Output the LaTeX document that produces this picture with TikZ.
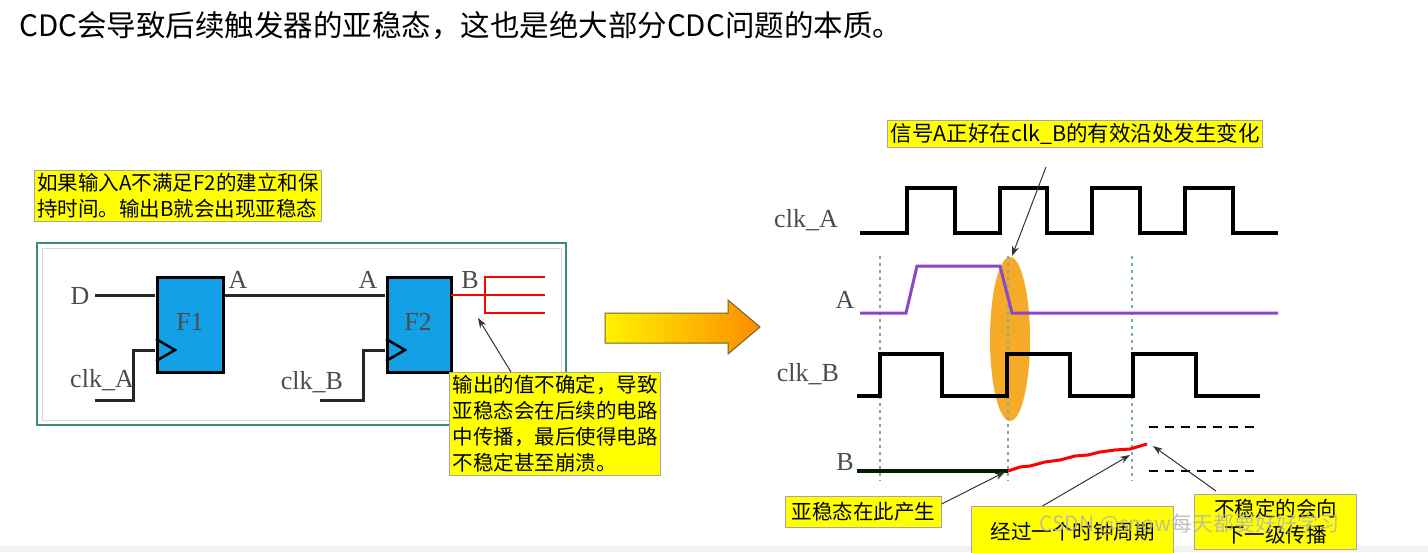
\documentclass[tikz,border=0pt]{standalone}
\usepackage{fontspec}
\setmainfont{Noto Sans CJK SC}
\newfontfamily\lbl{Liberation Serif}
\usetikzlibrary{arrows.meta}
\definecolor{callout}{RGB}{255,255,0}
\definecolor{ffblue}{RGB}{20,160,230}
\definecolor{teal}{RGB}{60,140,120}
\definecolor{purp}{RGB}{140,70,200}
\definecolor{orng}{RGB}{245,170,40}
\tikzset{
  note/.style={fill=callout, draw=gray!70, line width=1pt, inner sep=3pt, align=left, font=\fontsize{20.5}{26}\selectfont, text=black},
  ff/.style={fill=ffblue, draw=black, line width=3pt},
  wire/.style={line width=3pt, black!85},
  wave/.style={line width=3.5pt, line join=miter},
  sig/.style={font=\lbl\fontsize{26}{28}\selectfont, text=black!70},
  ptr/.style={-{Stealth[length=10pt,width=7pt]}, line width=1pt, black!80},
  guide/.style={teal!70, line width=1.2pt, dash pattern=on 3pt off 4pt}
}
\begin{document}
\begin{tikzpicture}[x=1pt,y=-1pt]
\useasboundingbox (0,0) rectangle (1428,552);
\fill[white] (0,0) rectangle (1428,552);
\fill[gray!10] (0,546) rectangle (1428,552);
\node[anchor=west, font=\fontsize{29.5}{32}\selectfont, inner sep=0pt] (title) at (19,26) {CDC会导致后续触发器的亚稳态，这也是绝大部分CDC问题的本质。};

% left circuit
\node[note, anchor=north west] (n1) at (34,170) {如果输入A不满足F2的建立和保\\持时间。输出B就会出现亚稳态};
\draw[teal, line width=2.5pt] (37,243) rectangle (566,425);
\draw[gray!30, line width=1pt] (42,248) rectangle (561,420);
\draw[wire] (95,295) -- (155,295);
\draw[wire] (222,295) -- (385,295);
\draw[wire] (95,400) -- (133,400) -- (133,350) -- (155,350);
\draw[wire] (320,400) -- (363,400) -- (363,350) -- (385,350);
\node[ff, minimum width=66pt, minimum height=95pt, anchor=north west] (F1) at (156,276) {};
\node[ff, minimum width=64pt, minimum height=95pt, anchor=north west] (F2) at (386,276) {};
\node[sig, text=black!70] at (190,322) {F1};
\node[sig, text=black!70] at (418,322) {F2};
\draw[line width=2.5pt] (156,339) -- (175,350) -- (156,361);
\draw[line width=2.5pt] (386,339) -- (405,350) -- (386,361);
\draw[red, line width=2.5pt] (451,295) -- (545,295);
\draw[red, line width=2.5pt] (545,277) -- (485,277) -- (485,313) -- (545,313);
\node[sig] (lD) at (80,296) {D};
\node[sig] (lA1) at (238,280) {A};
\node[sig] (lA2) at (368,280) {A};
\node[sig] (lB) at (470,280) {B};
\node[sig] (lcA) at (102,380) {clk\_A};
\node[sig] (lcB) at (312,382) {clk\_B};
\coordinate (bpt) at (478,318);
\node[note, anchor=north west] (n2) at (449,372) {输出的值不确定，导致\\亚稳态会在后续的电路\\中传播，最后使得电路\\不稳定甚至崩溃。};
\draw[ptr] (n2.north west) ++(62,0) -- (bpt);

% big arrow
\shade[left color=yellow!90!orange, right color=orange!90!yellow, draw=olive!70!black, line width=1pt]
  (605,313) -- (728,313) -- (728,300) -- (760,327) -- (728,354) -- (728,343) -- (605,343) -- cycle;

% waveforms
\node[note, anchor=north west, font=\fontsize{21.5}{26}\selectfont] (n3) at (887,120) {信号A正好在clk\_B的有效沿处发生变化};
\fill[orng] (1010,339) ellipse (20 and 82);
\foreach \x in {880,1008,1132} \draw[guide] (\x,256) -- (\x,481);
\draw[wave] (860,233) -- (907,233) -- (907,188) -- (955,188) -- (955,233) -- (1000,233) -- (1000,188) -- (1047,188) -- (1047,233) -- (1092,233) -- (1092,188) -- (1140,188) -- (1140,233) -- (1185,233) -- (1185,188) -- (1233,188) -- (1233,233) -- (1278,233);
\draw[wave, purp, line width=3pt] (860,313) -- (906,313) -- (917,266) -- (1000,266) -- (1012,313) -- (1278,313);
\draw[wave] (857,396) -- (880,396) -- (880,354) -- (942,354) -- (942,396) -- (1007,396) -- (1007,354) -- (1070,354) -- (1070,396) -- (1133,396) -- (1133,354) -- (1196,354) -- (1196,396) -- (1260,396);
\draw[line width=3.5pt, black!70!green!40!black] (857,471) -- (1008,471);
\draw[red, line width=3pt] (1008,471) -- (1020,467) -- (1030,466) -- (1045,462) -- (1060,460) -- (1075,456) -- (1088,455) -- (1100,452) -- (1115,450) -- (1130,449) -- (1147,444);
\draw[line width=2.5pt, dash pattern=on 9pt off 7pt] (1149,427) -- (1256,427);
\draw[line width=2.5pt, dash pattern=on 9pt off 7pt] (1149,471) -- (1260,471);
\node[sig] (wcA) at (806,220) {clk\_A};
\node[sig] (wA) at (845,300) {A};
\node[sig] (wcB) at (808,374) {clk\_B};
\node[sig] (wB) at (845,462) {B};
\coordinate (edge) at (1012,256);
\coordinate (born) at (1005,472);
\coordinate (cyc) at (1130,455);
\coordinate (nxt) at (1153,446);
\draw[ptr] (1046,167) -- (edge);
\node[note, anchor=north west, inner sep=6pt] (n4) at (785,496) {亚稳态在此产生};
\node[note, anchor=north west, minimum height=50pt, text width=196pt, align=center] (n5) at (971,506) {经过一个时钟周期};
\node[note, anchor=north west, minimum height=55pt, text width=156pt, align=center] (n6) at (1194,494) {不稳定的会向\\下一级传播};
\draw[ptr] (n4.east) ++(0,-8) -- (born);
\draw[ptr] (n5.north) ++(-30,0) -- (cyc);
\draw[ptr] (n6.north west) ++(22,-3) -- (nxt);
\node[anchor=west, text=gray!60, font=\fontsize{21}{22}\selectfont, opacity=0.8] (wm) at (1036,524) {CSDN @snow每天都要好好学习};
\end{tikzpicture}
\end{document}
